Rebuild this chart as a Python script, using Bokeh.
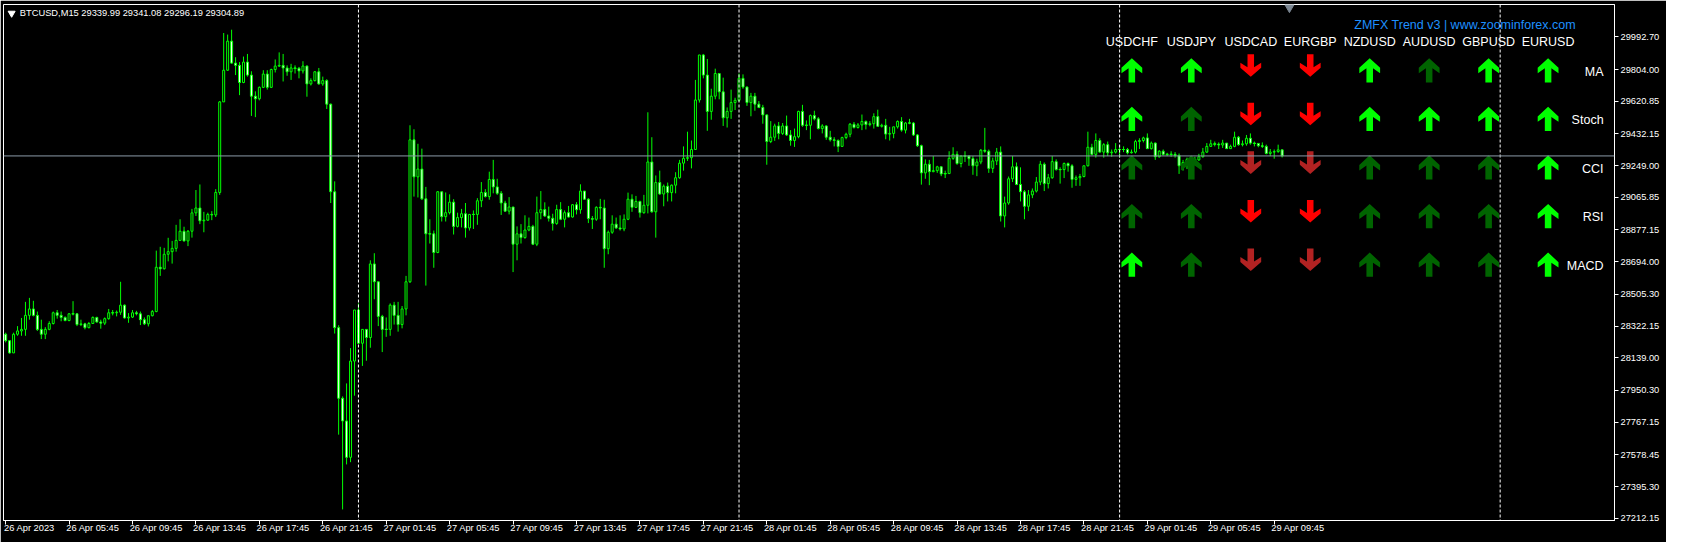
from bokeh.plotting import figure
from bokeh.models import Range1d, LinearAxis, FixedTicker, PrintfTickFormatter, Span
from bokeh.core.properties import value
from bokeh.embed import file_html
from bokeh.resources import INLINE

# ---------------- data ----------------
symbol = "BTCUSD,M15"
first_open = 28275.0
close = [
    28238, 28167, 28275, 28294, 28303, 28384, 28421, 28384, 28303, 28275,
    28303, 28337, 28399, 28384, 28372, 28354, 28393, 28393, 28331, 28335,
    28313, 28337, 28372, 28346, 28339, 28365, 28399, 28399, 28402, 28443,
    28369, 28374, 28399, 28393, 28359, 28335, 28382, 28406, 28662, 28653,
    28737, 28752, 28771, 28817, 28870, 28814, 28870, 28976, 29004, 28930,
    28934, 28967, 28964, 29094, 29617, 29800, 29968, 29841, 29828, 29729,
    29847, 29772, 29650, 29635, 29701, 29778, 29701, 29804, 29824, 29828,
    29813, 29791, 29813, 29811, 29796, 29824, 29721, 29740, 29791, 29721,
    29740, 29604, 29098, 28313, 27905, 27774, 27564, 28120, 28415, 28223,
    28303, 28256, 28681, 28578, 28378, 28303, 28303, 28443, 28384, 28331,
    28421, 28578, 29398, 29184, 29229, 29057, 28855, 28855, 28747, 29098,
    28954, 28977, 29038, 28898, 28949, 28971, 28889, 28967, 28967, 29046,
    29094, 29070, 29169, 29126, 29089, 29033, 28986, 29010, 28795, 28855,
    28833, 28877, 28898, 28795, 28977, 28995, 28958, 28945, 28915, 28995,
    28939, 28977, 28952, 29023, 28994, 29102, 29055, 28943, 28939, 29008,
    29004, 28769, 28864, 28911, 28889, 28883, 28939, 29055, 29008, 29042,
    28977, 29020, 29270, 28982, 29151, 29085, 29130, 29093, 29136, 29179,
    29263, 29291, 29295, 29342, 29628, 29888, 29772, 29562, 29650, 29781,
    29675, 29525, 29562, 29613, 29626, 29753, 29703, 29613, 29650, 29604,
    29585, 29542, 29388, 29413, 29478, 29435, 29478, 29426, 29394, 29416,
    29562, 29482, 29482, 29538, 29519, 29463, 29478, 29413, 29398, 29394,
    29360, 29411, 29430, 29488, 29469, 29484, 29504, 29486, 29491, 29532,
    29476, 29482, 29431, 29435, 29473, 29504, 29454, 29495, 29495, 29426,
    29364, 29207, 29257, 29214, 29220, 29242, 29201, 29203, 29291, 29314,
    29261, 29304, 29304, 29289, 29248, 29270, 29338, 29332, 29233, 29276,
    29327, 28958, 29033, 29173, 29242, 29140, 29098, 29014, 29080, 29102,
    29154, 29257, 29145, 29179, 29272, 29226, 29226, 29261, 29248, 29169,
    29179, 29186, 29248, 29355, 29314, 29394, 29327, 29370, 29323, 29327,
    29342, 29342, 29342, 29323, 29327, 29388, 29394, 29409, 29347, 29379,
    29300, 29332, 29314, 29314, 29314, 29308, 29248, 29267, 29285, 29282,
    29282, 29300, 29327, 29360, 29375, 29373, 29368, 29379, 29347, 29360,
    29413, 29370, 29375, 29407, 29379, 29377, 29364, 29360, 29319, 29327,
    29330, 29339.99, 29304.89,
]
high = [
    28284, 28238, 28284, 28322, 28369, 28462, 28485, 28468, 28406, 28359,
    28316, 28350, 28406, 28415, 28406, 28378, 28397, 28466, 28397, 28359,
    28341, 28346, 28378, 28376, 28359, 28372, 28421, 28415, 28412, 28578,
    28447, 28397, 28415, 28410, 28406, 28372, 28382, 28415, 28758, 28780,
    28774, 28832, 28814, 28907, 28939, 28896, 28877, 28999, 29108, 29140,
    28982, 28977, 28986, 29113, 29622, 30015, 30006, 30034, 29875, 29847,
    29879, 29894, 29794, 29678, 29706, 29800, 29800, 29809, 29862, 29903,
    29894, 29828, 29837, 29828, 29819, 29852, 29828, 29753, 29794, 29813,
    29763, 29748, 29607, 29158, 28327, 27916, 27991, 28195, 28415, 28453,
    28303, 28303, 28702, 28743, 28578, 28387, 28372, 28453, 28462, 28462,
    28438, 28612, 29482, 29459, 29375, 29347, 29126, 28939, 28874, 29102,
    29098, 29094, 29083, 29055, 28977, 28999, 29033, 28967, 28990, 29061,
    29154, 29113, 29214, 29282, 29173, 29102, 29046, 29067, 29008, 28898,
    28911, 28962, 28949, 28907, 29070, 29102, 29037, 29012, 28971, 29023,
    29038, 28990, 29016, 29027, 29038, 29141, 29102, 29061, 28958, 29014,
    29057, 29052, 28874, 28962, 28949, 28962, 28967, 29093, 29083, 29074,
    29046, 29080, 29557, 29413, 29192, 29220, 29140, 29151, 29140, 29211,
    29282, 29360, 29445, 29394, 29744, 29888, 29894, 29865, 29693, 29809,
    29781, 29757, 29585, 29688, 29641, 29781, 29776, 29706, 29669, 29669,
    29622, 29600, 29544, 29506, 29491, 29501, 29495, 29538, 29454, 29463,
    29566, 29600, 29510, 29544, 29566, 29529, 29488, 29482, 29450, 29413,
    29401, 29416, 29439, 29495, 29501, 29495, 29544, 29510, 29506, 29551,
    29572, 29491, 29519, 29473, 29473, 29510, 29529, 29501, 29519, 29501,
    29431, 29370, 29285, 29282, 29304, 29248, 29244, 29220, 29332, 29355,
    29332, 29308, 29332, 29308, 29304, 29289, 29345, 29467, 29342, 29295,
    29351, 29360, 29070, 29186, 29304, 29267, 29239, 29108, 29108, 29117,
    29183, 29276, 29267, 29201, 29304, 29285, 29239, 29267, 29267, 29257,
    29192, 29201, 29248, 29445, 29375, 29435, 29407, 29379, 29388, 29342,
    29379, 29360, 29360, 29351, 29342, 29398, 29407, 29416, 29435, 29388,
    29383, 29338, 29342, 29323, 29332, 29327, 29319, 29282, 29295, 29304,
    29300, 29317, 29351, 29379, 29398, 29388, 29383, 29398, 29375, 29370,
    29445, 29420, 29394, 29426, 29435, 29388, 29379, 29383, 29370, 29345,
    29342, 29370, 29341.08,
]
low = [
    28228, 28163, 28167, 28266, 28266, 28266, 28359, 28378, 28294, 28247,
    28247, 28298, 28331, 28365, 28350, 28350, 28350, 28384, 28322, 28322,
    28303, 28309, 28339, 28341, 28307, 28328, 28359, 28384, 28378, 28387,
    28365, 28341, 28369, 28384, 28328, 28328, 28320, 28378, 28402, 28612,
    28649, 28696, 28683, 28752, 28814, 28810, 28784, 28833, 28958, 28911,
    28864, 28930, 28934, 28952, 29080, 29626, 29796, 29837, 29772, 29656,
    29725, 29763, 29536, 29529, 29626, 29697, 29688, 29697, 29787, 29819,
    29735, 29768, 29744, 29781, 29753, 29781, 29647, 29712, 29735, 29716,
    29710, 29576, 29033, 28279, 27695, 27263, 27523, 27536, 27920, 28219,
    28092, 28122, 28197, 28477, 28322, 28172, 28260, 28266, 28331, 28290,
    28309, 28384, 28571, 29070, 29065, 29050, 28556, 28799, 28659, 28743,
    28926, 28926, 28967, 28851, 28892, 28892, 28833, 28874, 28883, 28907,
    29009, 29065, 29052, 29089, 29080, 28964, 28982, 28967, 28634, 28702,
    28799, 28827, 28870, 28790, 28784, 28939, 28952, 28926, 28874, 28907,
    28934, 28892, 28949, 28949, 28967, 28971, 29052, 28917, 28883, 28930,
    28939, 28659, 28737, 28855, 28883, 28874, 28870, 28934, 28982, 29004,
    28949, 28971, 28973, 28977, 28833, 29080, 29014, 29042, 29042, 29089,
    29173, 29220, 29276, 29233, 29342, 29613, 29753, 29450, 29514, 29632,
    29632, 29478, 29469, 29519, 29570, 29619, 29693, 29594, 29534, 29566,
    29581, 29491, 29254, 29379, 29392, 29401, 29426, 29420, 29364, 29357,
    29407, 29473, 29454, 29401, 29510, 29458, 29435, 29398, 29388, 29360,
    29327, 29357, 29401, 29413, 29463, 29463, 29454, 29458, 29476, 29463,
    29473, 29469, 29401, 29394, 29407, 29463, 29445, 29435, 29488, 29420,
    29357, 29139, 29173, 29136, 29211, 29207, 29188, 29177, 29201, 29282,
    29254, 29239, 29270, 29248, 29196, 29188, 29257, 29323, 29207, 29207,
    29252, 28926, 28892, 29023, 29154, 29136, 29042, 28939, 28986, 29061,
    29094, 29136, 29102, 29117, 29173, 29220, 29145, 29177, 29214, 29121,
    29132, 29132, 29181, 29244, 29308, 29295, 29323, 29295, 29304, 29300,
    29319, 29295, 29327, 29314, 29319, 29319, 29345, 29383, 29345, 29342,
    29282, 29295, 29308, 29304, 29300, 29295, 29201, 29220, 29229, 29267,
    29267, 29276, 29295, 29323, 29357, 29360, 29345, 29351, 29345, 29345,
    29355, 29364, 29360, 29364, 29370, 29360, 29355, 29351, 29314, 29304,
    29289, 29323, 29296.19,
]

tick_bars = list(range(0, 321, 16))
tick_labels = [
    "26 Apr 2023", "26 Apr 05:45", "26 Apr 09:45", "26 Apr 13:45", "26 Apr 17:45",
    "26 Apr 21:45", "27 Apr 01:45", "27 Apr 05:45", "27 Apr 09:45", "27 Apr 13:45",
    "27 Apr 17:45", "27 Apr 21:45", "28 Apr 01:45", "28 Apr 05:45", "28 Apr 09:45",
    "28 Apr 13:45", "28 Apr 17:45", "28 Apr 21:45", "29 Apr 01:45", "29 Apr 05:45",
    "29 Apr 09:45",
]
separator_bars = [89, 185, 281, 377]
price_ticks = [29992.70, 29804.00, 29620.85, 29432.15, 29249.00, 29065.85, 28877.15,
               28694.00, 28505.30, 28322.15, 28139.00, 27950.30, 27767.15, 27578.45,
               27395.30, 27212.15]

panel_title = "ZMFX Trend v3 | www.zoominforex.com"
pairs = ["USDCHF", "USDJPY", "USDCAD", "EURGBP", "NZDUSD", "AUDUSD", "GBPUSD", "EURUSD"]
indicators = ["MA", "Stoch", "CCI", "RSI", "MACD"]
# 2 = strong up, 1 = weak up, -2 = strong down, -1 = weak down
sig_ma = [2, 2, -2, -2, 2, 1, 2, 2]
sig_stoch = [2, 1, -2, -2, 2, 2, 2, 2]
sig_cci = [1, 1, -1, -1, 1, 1, 1, 2]
sig_rsi = [1, 1, -2, -2, 1, 1, 1, 2]
sig_macd = [2, 1, -1, -1, 1, 1, 1, 2]
signals = [sig_ma, sig_stoch, sig_cci, sig_rsi, sig_macd]

# ---------------- styles ----------------
GREEN = "#00FF00"
FONT = value("Liberation Sans")
SMALL = "9.3px"
BIG = "12.5px"
sig_color = {2: "#00FF00", 1: "#006400", -2: "#FF0000", -1: "#B22222"}

n = len(close)
opens = [first_open] + close[:-1]
xs = list(range(n))
tops = [max(o, c) for o, c in zip(opens, close)]
bots = [min(o, c) for o, c in zip(opens, close)]
his = [max(h, o, c) for h, o, c in zip(high, opens, close)]
los = [min(l, o, c) for l, o, c in zip(low, opens, close)]
fills = ["black" if c >= o else "white" for o, c in zip(opens, close)]

X0, X1 = -0.54, 405.84
Y0, Y1 = 27199.1, 30179.6
p = figure(width=1666, height=542,
           x_range=Range1d(X0, X1), y_range=Range1d(Y0, Y1),
           output_backend="svg", toolbar_location=None,
           x_axis_location=None, y_axis_location="right",
           background_fill_color="black", border_fill_color="black",
           outline_line_color="white", outline_line_width=1,
           min_border_left=3, min_border_top=4, min_border_right=52, min_border_bottom=22)
p.grid.visible = False
# extra ranges: panel grid (column / row index) and a pixel-like overlay space
p.extra_x_ranges = {"gx": Range1d((3.5 - 1142) / 60.0, (1629 - 1142) / 60.0),
                    "px": Range1d(3.5, 1629)}
p.extra_y_ranges = {"gy": Range1d((535 - 71.7) / 50.0, (4 - 71.7) / 50.0),
                    "py": Range1d(535, 4)}


def plain(ax):
    ax.axis_label = None
    ax.axis_label_standoff = 0
    ax.axis_label_text_font_size = "0px"


yax = p.yaxis[0]
plain(yax)
yax.ticker = FixedTicker(ticks=price_ticks)
yax.formatter = PrintfTickFormatter(format="%.2f")
yax.axis_line_color = "white"
yax.major_tick_line_color = "white"
yax.major_tick_out = 4
yax.major_tick_in = 0
yax.minor_tick_line_color = None
yax.major_label_text_color = "white"
yax.major_label_text_font = "Liberation Sans"
yax.major_label_text_font_size = SMALL
yax.major_label_standoff = 2

ax_ticks = LinearAxis(ticker=FixedTicker(ticks=tick_bars),
                      major_label_overrides={t: "" for t in tick_bars},
                      major_label_text_font_size="0px", major_label_standoff=0,
                      major_tick_out=4, major_tick_in=0,
                      axis_line_color="white", major_tick_line_color="white",
                      minor_tick_line_color=None)
plain(ax_ticks)
label_pos = [t + 6 for t in tick_bars]
ax_labels = LinearAxis(ticker=FixedTicker(ticks=label_pos),
                       major_label_overrides={pos: lab for pos, lab in zip(label_pos, tick_labels)},
                       major_label_text_font_size=SMALL, major_label_text_font="Liberation Sans",
                       major_label_text_color="white", major_label_standoff=-2,
                       major_tick_out=0, major_tick_in=0,
                       axis_line_color=None, major_tick_line_color=None,
                       minor_tick_line_color=None)
plain(ax_labels)
p.add_layout(ax_ticks, "below")
p.add_layout(ax_labels, "below")

# day separators and price line
for b in separator_bars:
    p.add_layout(Span(location=b, dimension="height", line_color="white",
                      line_dash="3 2", line_width=1))
p.add_layout(Span(location=close[-1], dimension="width", line_color="#8c9aa8", line_width=1))

# candles
p.segment(x0=xs, y0=los, x1=xs, y1=his, line_color=GREEN, line_width=1)
p.vbar(x=xs, width=0.5, top=tops, bottom=bots, fill_color=fills,
       line_color=GREEN, line_width=1)
doji = [i for i in range(n) if abs(close[i] - opens[i]) < 3]
p.segment(x0=[i - 0.375 for i in doji], x1=[i + 0.375 for i in doji],
          y0=[close[i] for i in doji], y1=[close[i] for i in doji],
          line_color=GREEN, line_width=1)

# chart title (top-left) and shift marker
title_txt = f"{symbol}  {opens[-1]:.2f} {high[-1]:.2f} {low[-1]:.2f} {close[-1]:.2f}"
p.text(x=[20], y=[12.5], text=[title_txt], x_range_name="px", y_range_name="py",
       text_color="white", text_font=FONT, text_font_size=SMALL,
       text_align="left", text_baseline="middle")
p.scatter(x=[11.7], y=[13], x_range_name="px", y_range_name="py",
          marker="inverted_triangle", size=7, color="white")
p.scatter(x=[1301], y=[7], x_range_name="px", y_range_name="py",
          marker="inverted_triangle", size=9, color="#7d8894")

# ---------------- trend panel ----------------
UP = [(0, -12.5), (10.5, -2.5), (10.5, 3), (3.3, -2), (3.3, 12.5),
      (-3.3, 12.5), (-3.3, -2), (-10.5, 3), (-10.5, -2.5)]
DOWN = [(dx, -dy * 0.93 - 5) for dx, dy in UP]
ax_list, ay_list, acol = [], [], []
for r, row in enumerate(signals):
    for c, s in enumerate(row):
        shape = UP if s > 0 else DOWN
        ax_list.append([c + dx / 60.0 for dx, dy in shape])
        ay_list.append([r + dy / 50.0 for dx, dy in shape])
        acol.append(sig_color[s])
p.patches(xs=ax_list, ys=ay_list, fill_color=acol, line_color=None,
          x_range_name="gx", y_range_name="gy")

p.text(x=list(range(len(pairs))), y=[-0.574] * len(pairs), text=pairs,
       x_range_name="gx", y_range_name="gy", text_color="white", text_font=FONT,
       text_font_size=BIG, text_align="center", text_baseline="middle")
p.text(x=[7.933] * len(indicators), y=[r + 0.026 for r in range(len(indicators))],
       text=indicators, x_range_name="gx", y_range_name="gy", text_color="white",
       text_font=FONT, text_font_size=BIG, text_align="right", text_baseline="middle")
p.text(x=[7.467], y=[-0.934], text=[panel_title], x_range_name="gx", y_range_name="gy",
       text_color="#1E90FF", text_font=FONT, text_font_size=BIG,
       text_align="right", text_baseline="middle")

open("out.html", "w").write(file_html(p, INLINE))
